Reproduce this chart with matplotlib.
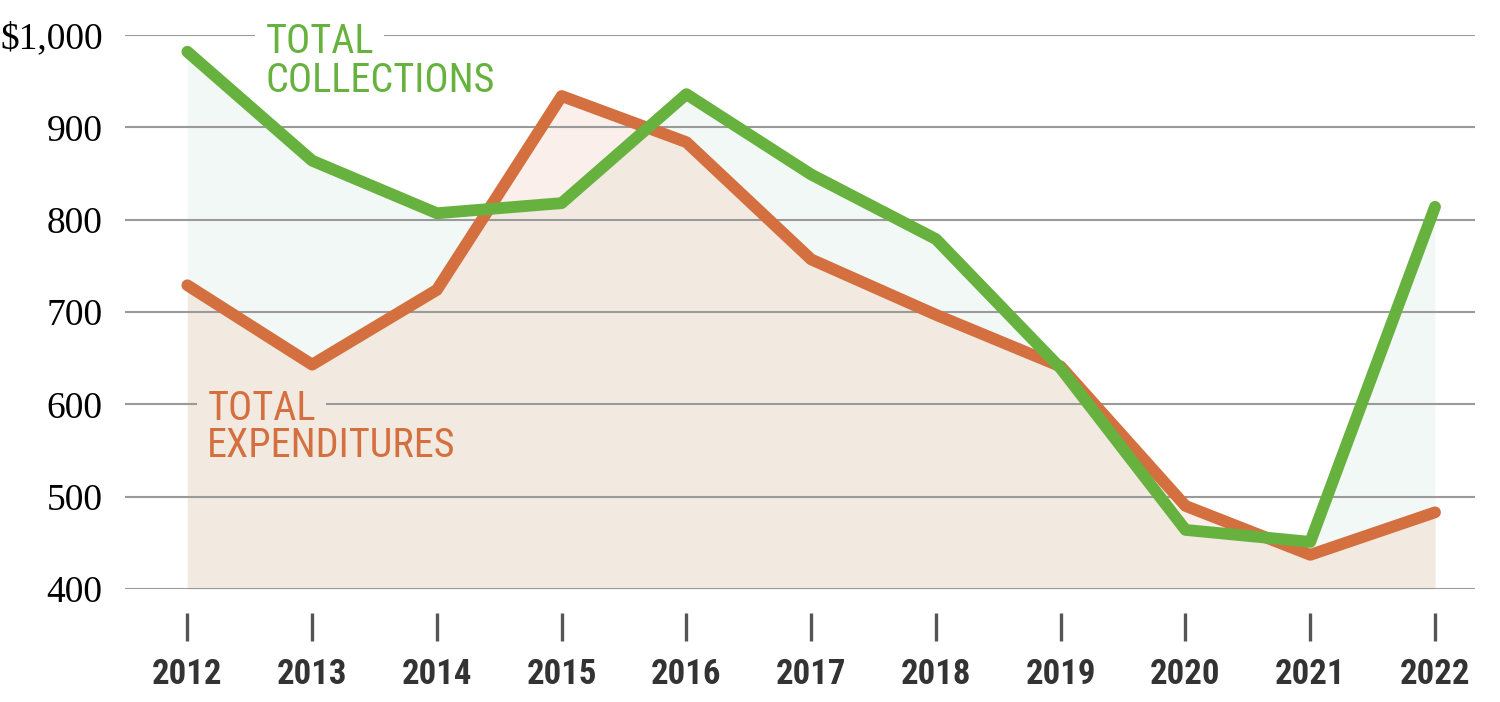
"""Total collections vs. total expenditures, 2012-2022."""
import matplotlib
matplotlib.use("Agg")
import matplotlib.pyplot as plt
import numpy as np

years = [2012, 2013, 2014, 2015, 2016, 2017, 2018, 2019, 2020, 2021, 2022]
collections = [982, 864, 807, 818, 936, 849, 779, 639, 464, 451, 814]
expenditures = [729, 643, 724, 934, 884, 757, 697, 641, 490, 437, 483]
y_ticks = [400, 500, 600, 700, 800, 900, 1000]
y_labels = ["400", "500", "600", "700", "800", "900", "$1,000"]

GREEN = "#67b13f"
ORANGE = "#d4703f"
MINT = "#f2f8f5"
BEIGE = "#f2e9e0"
PINK = "#faefea"
GRID = "#9a9a9a"
NARROW = ["Roboto Condensed", "DejaVu Sans"]

x = np.array(years, dtype=float)
c = np.array(collections, dtype=float)
e = np.array(expenditures, dtype=float)

# add the crossing points so the lower envelope follows both lines exactly
xs, cs, es = [x[0]], [c[0]], [e[0]]
for i in range(len(x) - 1):
    d0, d1 = c[i] - e[i], c[i + 1] - e[i + 1]
    if d0 * d1 < 0:
        t = d0 / (d0 - d1)
        xs.append(x[i] + t * (x[i + 1] - x[i]))
        cs.append(c[i] + t * (c[i + 1] - c[i]))
        es.append(cs[-1])
    xs.append(x[i + 1])
    cs.append(c[i + 1])
    es.append(e[i + 1])
xs, cs, es = map(np.array, (xs, cs, es))

fig = plt.figure(figsize=(15, 7.02), dpi=100)
ax = fig.add_axes([0.0833, 0.161, 0.90, 0.789])

ax.fill_between(xs, 400, cs, color=MINT, lw=0, zorder=1)
ax.fill_between(xs, cs, es, where=es >= cs, color=PINK, lw=0, zorder=1)
ax.fill_between(xs, 400, np.minimum(cs, es), color=BEIGE, lw=0, zorder=1)

ax.plot(x, e, color=ORANGE, lw=8.5, solid_joinstyle="round",
        solid_capstyle="round", clip_on=False, zorder=3)
ax.plot(x, c, color=GREEN, lw=8.5, solid_joinstyle="round",
        solid_capstyle="round", clip_on=False, zorder=3)

for side in ["top", "right", "left"]:
    ax.spines[side].set_visible(False)
ax.spines["bottom"].set_position(("outward", 17))
ax.spines["bottom"].set_color("none")

ax.set_xlim(2011.5, 2022.32)
ax.set_ylim(400, 1000)
ax.set_yticks(y_ticks)
ax.set_yticklabels(y_labels, fontfamily="Liberation Serif", fontsize=27, color="black")
ax.tick_params(axis="y", length=0, pad=16)
ax.grid(axis="y", color=GRID, lw=1.5)
ax.set_axisbelow(False)

ax.set_xticks(years)
ax.set_xticklabels([str(y) for y in years], fontfamily=NARROW, fontstretch="condensed",
                   fontweight="bold", fontsize=25, color="#333333")
ax.tick_params(axis="x", length=20, width=2.4, color="#555555", pad=13)

# series labels
lab = dict(fontsize=29, fontfamily=NARROW, fontstretch="condensed",
           va="baseline", ha="left", zorder=4)
ax.text(2012.625, 980.5, "TOTAL", color=GREEN,
        bbox=dict(boxstyle="square,pad=0.25", fc="white", ec="none"), **lab)
ax.text(2012.625, 938.3, "COLLECTIONS", color=GREEN, **lab)
ax.text(2012.16, 583, "TOTAL", color=ORANGE,
        bbox=dict(boxstyle="square,pad=0.25", fc=BEIGE, ec="none"), **lab)
ax.text(2012.16, 543, "EXPENDITURES", color=ORANGE, **lab)

fig.savefig("out.png", dpi=100, facecolor="white")
